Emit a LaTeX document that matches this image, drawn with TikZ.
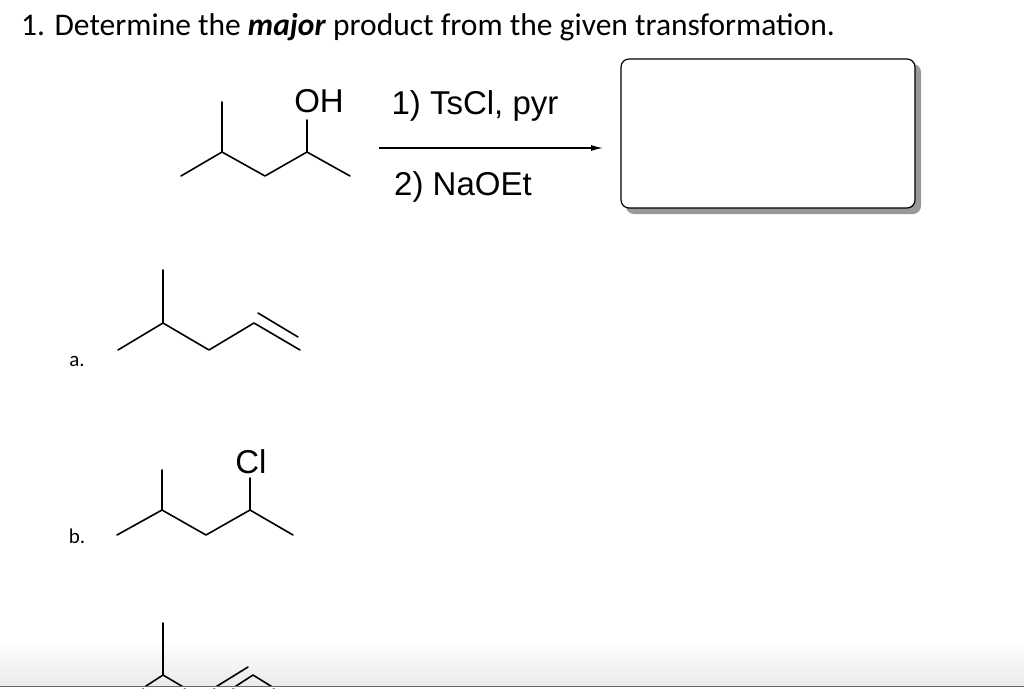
\documentclass[tikz,border=0pt]{standalone}
\usepackage{fontspec}
\usetikzlibrary{arrows.meta}
\setmainfont{Carlito}
\newfontfamily\arial{Liberation Sans}
\begin{document}
\begin{tikzpicture}[x=1pt,y=-1pt,bond/.style={line width=1.6pt,line cap=round,line join=round},
 chem/.style={font=\arial\fontsize{33}{36}\selectfont,inner sep=0pt},
 lab/.style={font=\fontsize{21}{24}\selectfont,inner sep=0pt}]
\useasboundingbox (0,0) rectangle (1024,688);
\shade[top color=white,bottom color=black!8] (0,640) rectangle (1024,686);
% c (cut)
\draw[bond] (163,623) -- (163,675) -- (143,688);
\draw[bond] (163,675) -- (185,688);
\draw[bond] (214,688) -- (248,667);
\draw[bond] (233,688) -- (253,675) -- (274,688);
\fill[white] (0,686) rectangle (1024,688);
\draw[black!60,line width=1.5pt] (0,686.5) -- (1024,686.5);
\node[anchor=west,inner sep=0pt,font=\fontsize{31.5}{34}\selectfont] (title) at (21,27) {1. Determine the \textbf{\textit{major}} product from the given transformation.};
% top molecule
\draw[bond] (181,176) -- (222,152) -- (265,176) -- (307,152) -- (350,176);
\draw[bond] (222,152) -- (222,102);
\draw[bond] (307,152) -- (307,120);
\node[chem] (oh) at (319,101) {OH};
\coordinate (as) at (379,148); \coordinate (ae) at (603,148);
\draw[line width=1.2pt,-{Latex[length=12pt,width=6pt]}] (as) -- (ae);
\node[chem] (r1) at (475,106) {1) TsCl, pyr};
\node[chem] (r2) at (463,187) {2) NaOEt};
\fill[black!40,rounded corners=8pt] (626,64) rectangle (921,214);
\draw[fill=white,line width=1.2pt,rounded corners=8pt] (621,59) rectangle (915,208);
% a
\node[lab] (la) at (77,361) {a.};
\draw[bond] (118,350) -- (163,323) -- (209,350) -- (254,323) -- (300,350);
\draw[bond] (163,323) -- (163,270);
\draw[bond] (258,313) -- (298,337);
% b
\node[lab] (lb) at (77,536) {b.};
\draw[bond] (117,535) -- (162,510) -- (206,535) -- (250,510) -- (293,535);
\draw[bond] (162,510) -- (162,470);
\draw[bond] (250,510) -- (250,478);
\node[chem] (cl) at (251,462) {Cl};
\end{tikzpicture}
\end{document}
